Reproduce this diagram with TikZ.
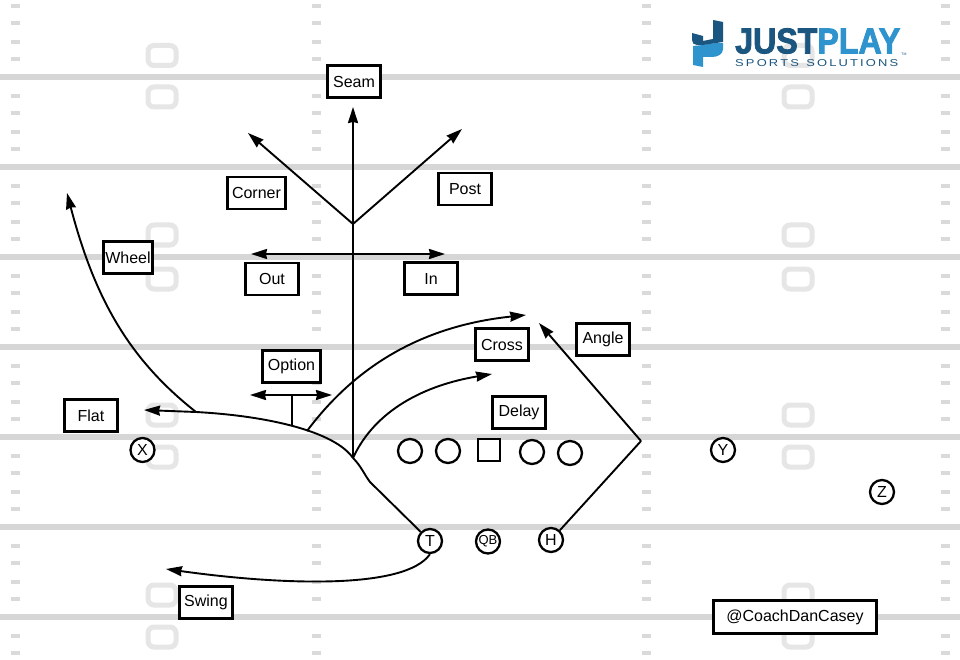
\documentclass[tikz,border=0pt]{standalone}
\usepackage{fontspec}
\usepackage{graphicx}
\setmainfont{Liberation Sans}
\newfontfamily\logofont[BoldFeatures={FakeBold=2.5}]{Liberation Sans}
\usetikzlibrary{arrows.meta}
\definecolor{fieldline}{HTML}{D6D6D6}
\definecolor{hashgray}{HTML}{DADADA}
\definecolor{numgray}{HTML}{E6E6E6}
\definecolor{logodark}{HTML}{1B5680}
\definecolor{logolight}{HTML}{2F93CE}
\tikzset{
  x=1pt,y=-1pt,
  yardline/.style={draw=fieldline,line width=6pt},
  hashmark/.style={draw=hashgray,line width=3.4pt},
  numplate/.style={draw=numgray,line width=5pt,rounded corners=6pt},
  lbl/.style={draw=black,line width=2.3pt,fill=white,font=\fontsize{16}{18}\selectfont,minimum width=53pt,minimum height=32pt,inner sep=0pt},
  player/.style={circle,draw=black,line width=2.3pt,fill=white,minimum size=24pt,inner sep=0pt,font=\fontsize{16}{18}\selectfont},
  route/.style={draw=black,line width=1.9pt},
  tip/.style={-{Stealth[length=16pt,width=10pt,inset=1pt]}},
  tips/.style={{Stealth[length=16pt,width=10pt,inset=1pt]}-{Stealth[length=16pt,width=10pt,inset=1pt]}},
}
\begin{document}
\begin{tikzpicture}
\useasboundingbox (0,0) rectangle (960,660);
\fill[white] (0,0) rectangle (960,660);
% field
\foreach \y in {77,167,257,347,437,527,617} {
  \draw[yardline] (0,\y) -- (960,\y);
}
\foreach \hx in {15,316,646,945} {
  \foreach \y in {77,167,257,347,437,527,617} {
    \foreach \d in {-71,-54,-35,-18,19,36,55,72} {
      \draw[hashmark] (\hx-4.5,\y+\d) -- (\hx+4.5,\y+\d);
    }
  }
}
\foreach \nx in {162,798} {
  \foreach \ny in {55.5,97,235,279,415,457,595,637} {
    \draw[numplate] (\nx-14,\ny-10) rectangle (\nx+14,\ny+10);
  }
}
% logo
\fill[logolight] (693,46) -- (703,45) .. controls (712,43) and (718,43) .. (723,43) -- (723,49) .. controls (723,54) and (718,57) .. (712,57) -- (703,57) -- (703,67) -- (693,65) -- cycle;
\fill[logodark] (713,20) -- (723,22) -- (723,42) -- (703,45) -- (697,45) .. controls (694,45) and (692,43) .. (692,40) -- (692,33) -- (703,36) -- (703,41) -- (713,39) -- cycle;
\node[inner sep=0pt,anchor=west] (logomain) at (735,41) {\resizebox{165pt}{25pt}{\logofont\bfseries\textcolor{logodark}{JUST}\textcolor{logolight}{PLAY}}};
\node[inner sep=0pt,anchor=west] (logosub) at (735,63.5) {\resizebox{163pt}{7pt}{\textcolor{logodark}{S\,P\,O\,R\,T\,S\ \ S\,O\,L\,U\,T\,I\,O\,N\,S}}};
\node[inner sep=0pt,anchor=center,text=logodark,font=\fontsize{3.5}{4}\selectfont] (logotm) at (904,54.5) {TM};
% route points
\coordinate (seamtop) at (353,107);
\coordinate (stem) at (353,458);
\coordinate (brk) at (353,224);
\coordinate (cornerend) at (248,133);
\coordinate (postend) at (462,129);
\coordinate (outend) at (251,254);
\coordinate (inend) at (445,254);
\coordinate (wheelstart) at (196,412);
\coordinate (wheelend) at (67,193);
\coordinate (flatend) at (144,410);
\coordinate (crossstart) at (307,431);
\coordinate (crossend) at (526,315);
\coordinate (delayend) at (492,374);
\coordinate (optbase) at (292,425);
\coordinate (optmid) at (292,395);
\coordinate (optleft) at (250,395);
\coordinate (optright) at (332,395);
\coordinate (bend) at (370,482);
\coordinate (anglemid) at (641,441);
\coordinate (angleend) at (539,323);
\coordinate (swingend) at (166,569);
% players
\node[player] (X) at (142.5,450) {X};
\node[player] (Y) at (723,450) {Y};
\node[player] (Z) at (882,492) {Z};
\node[player] (T) at (430,541) {T};
\node[player,font=\fontsize{13}{14}\selectfont] (QB) at (488,541.5) {QB};
\node[player] (H) at (551,540) {H};
\node[player] (LA) at (410,451) {};
\node[player] (LB) at (448,451) {};
\node[draw=black,line width=1.9pt,fill=white,minimum size=22pt,inner sep=0pt] (C) at (489,450) {};
\node[player] (LC) at (532,452) {};
\node[player] (LD) at (570,453) {};
% routes
\draw[route] (T) -- (bend) .. controls (364,474) and (361,466) .. (stem);
\draw[route,tip] (stem) -- (seamtop);
\draw[route,tip] (brk) -- (cornerend);
\draw[route,tip] (brk) -- (postend);
\draw[route,tips] (outend) -- (inend);
\draw[route,tip] (stem) .. controls (335,432) and (270,416) .. (wheelstart) -- (flatend);
\draw[route,tip] (wheelstart) .. controls (130,360) and (95,300) .. (wheelend);
\draw[route,tip] (crossstart) .. controls (360,360) and (430,325) .. (crossend);
\draw[route,tip] (stem) .. controls (375,410) and (425,385) .. (delayend);
\draw[route] (optbase) -- (optmid);
\draw[route,tips] (optleft) -- (optright);
\draw[route] (H) -- (anglemid);
\draw[route,tip] (anglemid) -- (angleend);
\draw[route,tip] (T.south) .. controls (405,590) and (280,585) .. (swingend);
% labels
\node[lbl] (Seam) at (354,81.5) {Seam};
\node[lbl,minimum width=58pt] (Corner) at (256.5,193) {Corner};
\node[lbl] (Post) at (465,189) {Post};
\node[lbl,minimum width=49pt] (Wheel) at (128,257.5) {Wheel};
\node[lbl] (Out) at (272,279) {Out};
\node[lbl] (In) at (431,278.5) {In};
\node[lbl,minimum width=58pt] (Option) at (291.5,366.5) {Option};
\node[lbl] (Cross) at (502,344.5) {Cross};
\node[lbl] (Angle) at (603,339.5) {Angle};
\node[lbl] (Delay) at (519,412.5) {Delay};
\node[lbl] (Flat) at (91,415.5) {Flat};
\node[lbl] (Swing) at (206,602.5) {Swing};
\node[lbl,minimum width=163pt,minimum height=33pt] (handle) at (795,617) {@CoachDanCasey};
\end{tikzpicture}
\end{document}
